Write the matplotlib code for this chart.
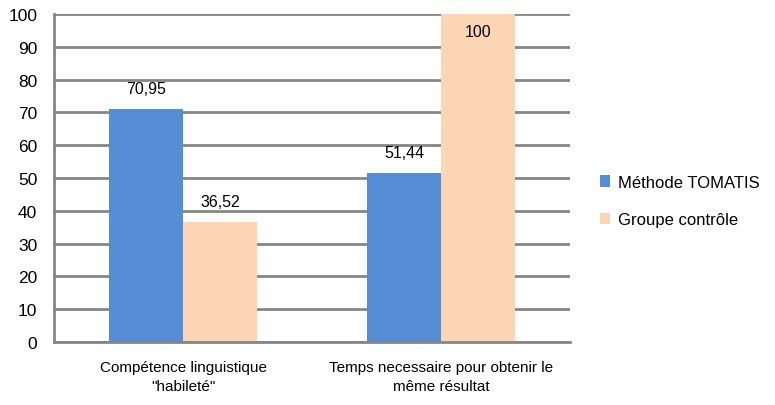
import matplotlib
matplotlib.use("Agg")
import matplotlib.pyplot as plt
import numpy as np

categories = ['Compétence linguistique\n"habileté"',
              'Temps necessaire pour obtenir le\nmême résultat']
series_names = ['Méthode TOMATIS', 'Groupe contrôle']
tomatis = [70.95, 51.44]
controle = [36.52, 100]
value_labels_tomatis = ['70,95', '51,44']
value_labels_controle = ['36,52', '100']
yticks = list(range(0, 101, 10))

plt.rcParams['font.family'] = ['Liberation Sans', 'DejaVu Sans']

fig = plt.figure(figsize=(7.75, 4.06), dpi=100)
ax = fig.add_axes([54 / 775, 63 / 406, 516 / 775, 328 / 406])

x = np.arange(len(categories))
w = 0.287
blue = '#558ED5'
peach = '#FCD5B5'
grid_col = '#868686'

ax.set_axisbelow(True)
ax.yaxis.grid(True, color=grid_col, linewidth=2)
ax.bar(x - w / 2, tomatis, w, color=blue, label=series_names[0])
ax.bar(x + w / 2, controle, w, color=peach, label=series_names[1])

for xi, v, s in zip(x - w / 2, tomatis, value_labels_tomatis):
    ax.text(xi, v + 4, s, ha='center', va='bottom', fontsize=11.5)
for xi, v, s in zip(x + w / 2, controle, value_labels_controle):
    y = v + 4 if v < 90 else v - 7.5
    ax.text(xi, y, s, ha='center', va='bottom', fontsize=11.5)

ax.set_xlim(-0.5, 1.5)
ax.set_ylim(0, 100)
ax.set_yticks(yticks)
ax.set_xticks(x)
ax.set_xticklabels(categories, fontsize=11, linespacing=1.45)
ax.tick_params(axis='y', length=0, labelsize=12.5, pad=12)
ax.tick_params(axis='x', length=0, pad=13)

for side in ['top', 'right']:
    ax.spines[side].set_visible(False)
for side in ['left', 'bottom']:
    ax.spines[side].set_color(grid_col)
    ax.spines[side].set_linewidth(2)

ax.legend(loc='center left', bbox_to_anchor=(1.03, 0.43), frameon=False,
          fontsize=12, handlelength=0.55, handleheight=0.7,
          handletextpad=0.5, labelspacing=1.35)

fig.savefig('out.png', dpi=100)
